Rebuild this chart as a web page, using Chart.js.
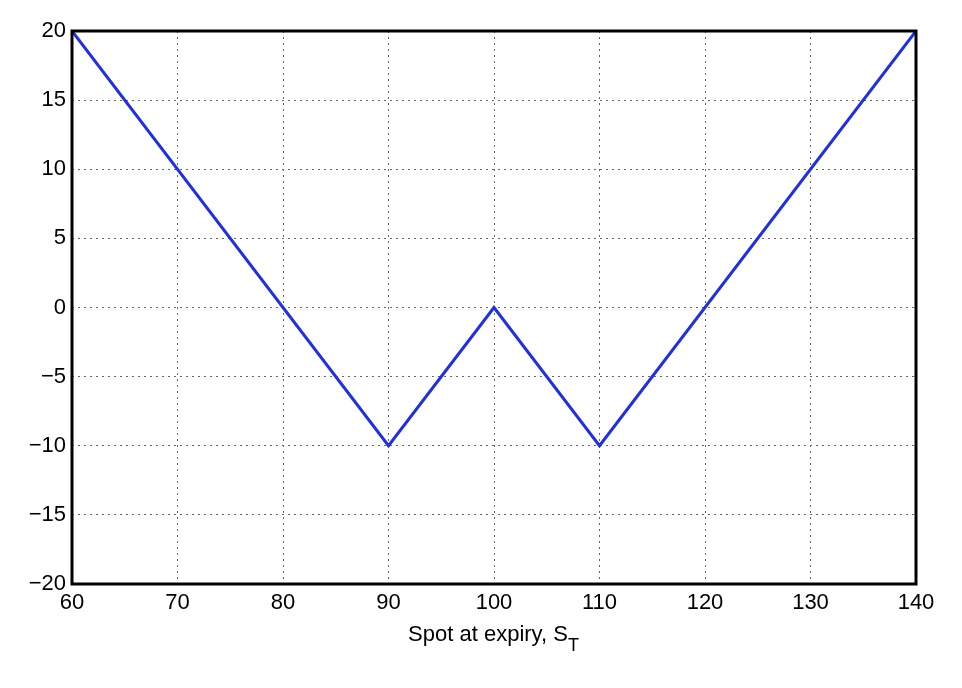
<!DOCTYPE html>
<html>
<head>
<meta charset="utf-8">
<script src="https://cdn.jsdelivr.net/npm/chart.js@4"></script>
<style>
    body { margin: 0; background: #fff; }
    #wrap { width: 962px; height: 688px; }
</style>
</head>
<body>
<div id="wrap"><canvas id="payoffChart"></canvas></div>
<script>
const spotPoints = [60, 90, 100, 110, 140];
const payoffValues = [20, -10, 0, -10, 20];
const xTicks = [60, 70, 80, 90, 100, 110, 120, 130, 140];
const yTicks = [20, 15, 10, 5, 0, -5, -10, -15, -20];
const xTitle = "Spot at expiry, S";
const xTitleSub = "T";

document.addEventListener( "DOMContentLoaded", function () {
    const ctx = document.getElementById( "payoffChart" ).getContext( "2d" );

    // frame and axis title with subscript
    const framePlugin = {
        id: "frame",
        afterDraw( chart ) {
            const a = chart.chartArea;
            const c = chart.ctx;
            c.save();
            c.strokeStyle = "#000";
            c.lineWidth = 3;
            c.strokeRect( a.left, a.top, a.right - a.left, a.bottom - a.top );
            c.fillStyle = "#000";
            c.font = "22px 'Liberation Sans', Arial, sans-serif";
            c.textBaseline = "alphabetic";
            const w = c.measureText( xTitle ).width;
            const x0 = ( a.left + a.right ) / 2 - ( w + 12 ) / 2;
            c.fillText( xTitle, x0, 641 );
            c.font = "18px 'Liberation Sans', Arial, sans-serif";
            c.fillText( xTitleSub, x0 + w, 651 );
            c.restore();
        }
    };

    const gridOpts = { color: "#666", lineWidth: 1, drawTicks: false };
    const borderOpts = { display: false, dash: [2, 4] };

    new Chart( ctx, {
        type: "scatter",
        data: {
            datasets: [{
                data: spotPoints.map( ( s, i ) => ( { x: s, y: payoffValues[i] } ) ),
                showLine: true,
                borderColor: "#1f2fe6",
                borderWidth: 3,
                pointRadius: 0,
                tension: 0
            }]
        },
        options: {
            responsive: true,
            maintainAspectRatio: false,
            animation: false,
            layout: { padding: { left: 0, right: 46, top: 31, bottom: 0 } },
            plugins: { legend: { display: false }, tooltip: { enabled: false } },
            scales: {
                x: {
                    type: "linear",
                    min: 60, max: 140,
                    afterBuildTicks: axis => { axis.ticks = xTicks.map( v => ( { value: v } ) ); },
                    afterFit: axis => { axis.height = 104; },
                    border: borderOpts,
                    grid: gridOpts,
                    ticks: { color: "#000", padding: 6, maxRotation: 0, font: { size: 22, family: "'Liberation Sans', Arial, sans-serif" } }
                },
                y: {
                    min: -20, max: 20,
                    afterBuildTicks: axis => { axis.ticks = yTicks.map( v => ( { value: v } ) ); },
                    afterFit: axis => { axis.width = 72; },
                    border: borderOpts,
                    grid: gridOpts,
                    ticks: {
                        color: "#000", padding: 6,
                        font: { size: 22, family: "'Liberation Sans', Arial, sans-serif" },
                        callback: v => v < 0 ? "\u2212" + Math.abs( v ) : String( v )
                    }
                }
            }
        },
        plugins: [framePlugin]
    } );
} );
</script>
</body>
</html>
